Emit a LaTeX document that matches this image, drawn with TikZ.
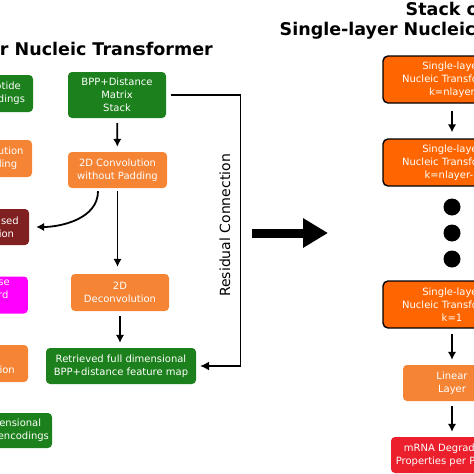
\documentclass[tikz,border=0pt]{standalone}
\usepackage{fontspec}
\setmainfont{DejaVu Sans}
\usetikzlibrary{arrows.meta}

\definecolor{boxgreen}{RGB}{28,128,28}
\definecolor{boxorange}{RGB}{245,132,52}
\definecolor{layerorange}{RGB}{255,102,0}
\definecolor{boxmaroon}{RGB}{128,32,32}
\definecolor{boxmagenta}{RGB}{255,0,255}
\definecolor{boxred}{RGB}{236,32,44}

\tikzset{
	block/.style={rounded corners=4pt, text=white, align=center, inner sep=0pt,
		font=\fontsize{10}{13}\selectfont},
	greenbox/.style={block, fill=boxgreen},
	orangebox/.style={block, fill=boxorange},
	maroonbox/.style={block, fill=boxmaroon},
	magentabox/.style={block, fill=boxmagenta},
	redbox/.style={block, fill=boxred},
	layerbox/.style={block, fill=layerorange, draw=black, line width=1.4pt, rounded corners=5pt,
		minimum width=138pt, minimum height=47pt},
	flow/.style={-{Latex[length=8pt,width=8.5pt]}, line width=1.8pt, shorten >=5pt, shorten <=5pt},
	resid/.style={-{Latex[length=9pt,width=9pt]}, line width=1.3pt},
	bigarrow/.style={line width=9pt, -{Triangle[length=25pt,width=28pt]}},
	title/.style={font=\fontsize{17.5}{21}\bfseries\selectfont, inner sep=0pt},
}

\begin{document}
\begin{tikzpicture}[x=1pt, y=-1pt]

\useasboundingbox (0,0) rectangle (474,474);
\clip (0,0) rectangle (474,474);

%Titles
\node[title, anchor=base east] (ttlsingle) at (213,55) {Single-layer Nucleic Transformer};
\node[title, anchor=base] (ttlstack) at (446,15) {Stack of};
\node[title, anchor=base] (ttlstack2) at (446,35.5) {Single-layer Nucleic Transformers};

%Left column (cut by the frame)
\node[greenbox, minimum width=78pt, minimum height=37pt] (embed) at (-6,93.5) {Nucleotide\\Embeddings};
\node[orangebox, minimum width=94pt, minimum height=37pt] (conv1d) at (-15,158.5) {1D Convolution\\with Padding};
\node[maroonbox, minimum width=76pt, minimum height=36pt] (attn) at (-9,227) {BPP-Biased\\Attention};
\node[magentabox, minimum width=101pt, minimum height=37pt] (ffn) at (-22.6,295) {Position-wise\\Feedforward\\Network};
\node[orangebox, minimum width=96pt, minimum height=37pt] (norm) at (-20,363.5) {Layer\\Normalization};
\node[greenbox, minimum width=108.6pt, minimum height=35pt] (enc) at (-2.3,430.5) {High dimensional\\sequence encodings};

%Middle column
\node[greenbox, minimum width=98pt, minimum height=46pt] (bpp) at (117,95) {BPP+Distance\\Matrix\\Stack};
\node[orangebox, minimum width=99pt, minimum height=36pt] (conv) at (117.5,170) {2D Convolution\\without Padding};
\node[orangebox, minimum width=98pt, minimum height=37pt] (deconv) at (120,292.5) {2D\\Deconvolution};
\node[greenbox, minimum width=150pt, minimum height=36pt] (retr) at (121,366) {Retrieved full dimensional\\BPP+distance feature map};

%Arrows
\draw[flow] (bpp) -- (conv);
\draw[flow, shorten <=3pt, shorten >=7pt] (conv.south) -- (conv.south |- deconv.north);
\draw[flow] (deconv.south) -- (deconv.south |- retr.north);
\draw[flow, shorten <=3pt, shorten >=7pt] ([xshift=-19.5pt]conv.south) to[out=-90, in=0] (attn.east);

%Residual connection
\draw[resid, shorten <=5pt, shorten >=4pt] (bpp.east) -- ++(74,0) |- (retr.east);
\node[rotate=90, font=\fontsize{14}{17}\selectfont] (reslbl) at (225,225.5) {Residual Connection};

%Big arrow
\coordinate (gofrom) at (252,233);
\coordinate (goto) at (328,233);
\draw[bigarrow] (gofrom) -- (goto);

%Right column
\node[layerbox] (layertop) at (452,79.5) {Single-layer\\Nucleic Transformer\\k=nlayer};
\node[layerbox] (layernext) at (452,162.5) {Single-layer\\Nucleic Transformer\\k=nlayer-1};
\node[layerbox] (layerone) at (452,304.5) {Single-layer\\Nucleic Transformer\\k=1};
\node[orangebox, minimum width=98pt, minimum height=36pt] (linear) at (452,383) {Linear\\Layer};
\node[redbox, minimum width=122pt, minimum height=36pt] (out) at (452,455) {mRNA Degradation\\Properties per Position};

\foreach \y in {207,233,259}
{
	\fill[black] (452,\y) circle (8.5pt);
}

\draw[flow, shorten <=7pt, shorten >=6pt] (layertop) -- (layernext);
\draw[flow] (layerone) -- (linear);
\draw[flow] (linear) -- (out);

\end{tikzpicture}
\end{document}
